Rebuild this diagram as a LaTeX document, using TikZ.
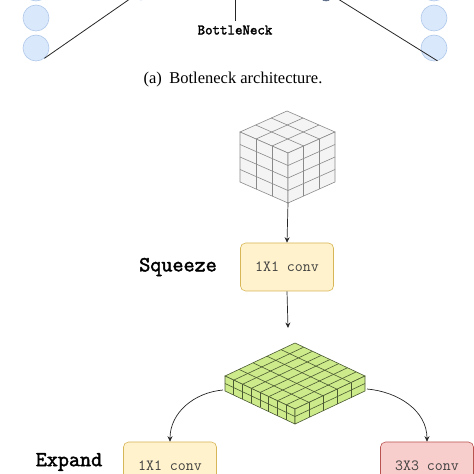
\documentclass[tikz,border=0pt]{standalone}
\usepackage{fontspec}
\setmainfont{Liberation Serif}
\newfontfamily\labelmono[FakeBold=2.2]{Latin Modern Mono}
\usetikzlibrary{arrows.meta}
\definecolor{circfill}{HTML}{DAE8FC}
\definecolor{circdraw}{HTML}{B0C8EA}
\definecolor{circdark}{HTML}{5C6C88}
\definecolor{yfill}{HTML}{FFF2CC}
\definecolor{ydraw}{HTML}{D6B656}
\definecolor{rfill}{HTML}{F8CECC}
\definecolor{rdraw}{HTML}{B85450}
\definecolor{gfill}{HTML}{CDEB8B}
\definecolor{gline}{HTML}{4B5A32}
\definecolor{cubefill}{HTML}{F4F4F4}
\definecolor{cubeline}{HTML}{8A8A8A}
\begin{document}
\begin{tikzpicture}[x=1pt,y=1pt,
  neuron/.style={circle, fill=circfill, draw=circdraw, line width=0.6pt, minimum size=26pt, inner sep=0pt},
  convbox/.style={rectangle, rounded corners=5pt, minimum width=93pt, minimum height=48pt, line width=0.6pt, font=\fontsize{15.5}{16}\ttfamily, text=black!75},
  ybox/.style={convbox, fill=yfill, draw=ydraw},
  rbox/.style={convbox, fill=rfill, draw=rdraw},
  steplabel/.style={font=\fontsize{21.5}{22}\labelmono},
  conn/.style={line width=0.7pt, draw=black!85, -{Stealth[length=5.5pt,width=5pt]}},
  plainline/.style={line width=0.8pt, draw=black!85},
  cubeface/.style={fill=cubefill, draw=cubeline, line width=0.6pt},
  cubegrid/.style={draw=cubeline, line width=0.6pt},
  slabface/.style={fill=gfill, draw=gline, line width=0.6pt},
  slabgrid/.style={draw=gline, line width=0.6pt},
]
\useasboundingbox (0,0) rectangle (474,474);
\clip (0,0) rectangle (474,474);

% ---------- top part: bottleneck ----------
\node[neuron] (l1) at (36,486) {};
\node[neuron] (l2) at (36,456) {};
\node[neuron] (l3) at (36,426) {};
\node[neuron] (r1) at (434,486) {};
\node[neuron] (r2) at (434,456) {};
\node[neuron] (r3) at (434,426) {};
\node[neuron, minimum size=18pt] (lm) at (141,483) {};
\node[neuron, minimum size=12pt, fill=circdark, draw=circdark] (rm) at (326,479) {};
\coordinate (lt) at (137,480);
\coordinate (rt) at (330,480);
\draw[plainline] (l3.-51) -- (lt);
\draw[plainline] (rt) -- (r3.-75);
\node[font=\fontsize{14.5}{15}\labelmono, inner sep=4pt] (bn) at (235,444) {BottleNeck};
\coordinate (vt) at (235,480);
\draw[plainline] (vt) -- (bn);
\node[font=\fontsize{16.5}{18}\selectfont] (cap) at (233,394) {(a)\hspace{0.45em}Botleneck architecture.};

% ---------- gray cube ----------
\draw[cubeface] (240,342) -- (288,321) -- (335,342) -- (287,363) -- cycle;
\foreach \i in {1,2} {
  \draw[cubegrid] (240+\i*16, 342-\i*7) -- ++(47,21);
  \draw[cubegrid] (240+\i*15.667, 342+\i*7) -- ++(48,-21);
}
\draw[cubeface] (240,342) -- (288,321) -- (288,271) -- (240,292) -- cycle;
\draw[cubeface] (288,321) -- (335,342) -- (335,292) -- (288,271) -- cycle;
\foreach \i in {1,2} {
  \draw[cubegrid] (240+\i*16, 342-\i*7) -- ++(0,-50);
  \draw[cubegrid] (288+\i*15.667, 321+\i*7) -- ++(0,-50);
}
\foreach \k in {1,2,3} {
  \draw[cubegrid] (240, 342-\k*12.5) -- ++(48,-21);
  \draw[cubegrid] (288, 321-\k*12.5) -- ++(47,21);
}
\coordinate (cubebot) at (288,271);

% ---------- squeeze ----------
\node[ybox] (sq) at (287,207) {1X1 conv};
\node[steplabel] (sql) at (178,207) {Squeeze};
\draw[conn] (cubebot) -- (sq.north);

% ---------- green slab ----------
\draw[slabface] (225,98) -- (295,65) -- (365,98) -- (295,131) -- cycle;
\foreach \i in {1,...,7} {
  \draw[slabgrid] (225+\i*8.75, 98-\i*4.125) -- ++(70,33);
}
\foreach \j in {1,...,4} {
  \draw[slabgrid] (225+\j*14, 98+\j*6.6) -- ++(70,-33);
}
\draw[slabface] (225,98) -- (295,65) -- (295,50) -- (225,83) -- cycle;
\draw[slabface] (295,65) -- (365,98) -- (365,83) -- (295,50) -- cycle;
\foreach \i in {1,...,7} {
  \draw[slabgrid] (225+\i*8.75, 98-\i*4.125) -- ++(0,-15);
}
\foreach \j in {1,...,4} {
  \draw[slabgrid] (295+\j*14, 65+\j*6.6) -- ++(0,-15);
}
\draw[slabgrid] (225,90.5) -- ++(70,-33);
\draw[slabgrid] (295,57.5) -- ++(70,33);
\coordinate (slabtop) at (288,146);
\coordinate (slableft) at (223,84);
\coordinate (slabright) at (367,85);
\draw[conn] (sq.south) -- (slabtop);

% ---------- expand ----------
\node[ybox] (e1) at (170,8) {1X1 conv};
\node[rbox] (e3) at (427,8) {3X3 conv};
\node[steplabel] (exl) at (69,12) {Expand};
\draw[conn] (slableft) to[out=185,in=90] (e1.north);
\draw[conn] (slabright) to[out=-5,in=90] (e3.north);
\end{tikzpicture}
\end{document}
